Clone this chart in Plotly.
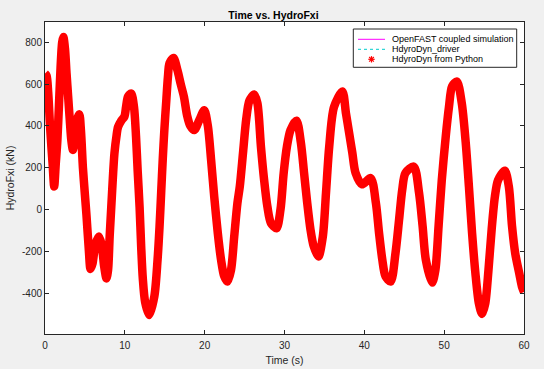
import plotly.graph_objects as go

# Time (s) and HydroFxi (kN)
time_s = [0.0, 0.2, 0.4, 0.6, 0.8, 0.95, 1.15, 1.35, 1.55, 1.75, 1.95, 2.15, 2.3, 2.5, 2.7, 2.9,
          3.1, 3.3, 3.5, 3.7, 3.9, 4.1, 4.3, 4.5, 4.75, 5.0, 5.2, 5.5, 5.7, 5.95, 6.3, 6.75,
          7.1, 7.4, 7.7, 7.9, 8.1, 8.3, 8.5, 8.7, 8.95, 9.15, 9.55, 9.95, 10.15, 10.4, 10.8,
          11.15, 11.4, 11.6, 11.85, 12.05, 12.25, 12.55, 13.05, 13.7, 14.1, 14.35, 14.55,
          14.75, 14.95, 15.2, 15.4, 15.6, 16.1, 16.6, 17.0, 17.4, 17.8, 18.2, 18.7, 19.35,
          19.95, 20.4, 20.8, 21.2, 21.65, 22.05, 22.45, 22.85, 23.3, 23.7, 24.1, 24.4, 24.8,
          25.2, 25.6, 26.2, 26.6, 27.05, 27.45, 27.85, 28.3, 29.0, 29.5, 29.9, 30.3, 30.75,
          31.5, 32.05, 32.45, 32.85, 33.25, 33.65, 34.25, 34.8, 35.2, 35.6, 36.2, 37.25,
          37.7, 38.1, 38.5, 38.9, 39.7, 40.8, 41.45, 41.85, 42.25, 42.65, 43.3, 43.9, 44.35,
          44.75, 45.15, 46.2, 46.85, 47.3, 47.7, 48.5, 48.9, 49.3, 49.7, 50.2, 50.6, 51.0,
          51.6, 52.2, 52.7, 53.1, 53.5, 53.9, 54.35, 54.75, 55.15, 55.55, 55.95, 56.35,
          56.75, 57.6, 58.1, 58.5, 58.9, 59.4, 59.75, 60.0]
hydro_fxi = [650, 640, 560, 420, 300, 220, 110, 220, 330, 500, 680, 800, 825, 770, 650, 540,
             430, 330, 285, 330, 400, 440, 455, 380, 200, 70, -30, -200, -285, -260, -170, -130,
             -170, -270, -330, -290, -130, 10, 150, 270, 350, 395, 425, 445, 490, 540, 555,
             490, 350, 190, 10, -180, -330, -445, -505, -415, -240, -80, 80,
             240, 380, 525, 635, 700, 725, 665, 600, 540, 450, 400, 380, 430,
             475, 400, 240, 60, -115, -240, -320, -345, -290, -130, 30, 110, 270,
             430, 520, 550, 510, 300, 140, 15, -65, -90, 0, 175, 300, 380,
             425, 320, 175, 30, -95, -175, -225, -130, 80, 300, 490, 565,
             460, 365, 270, 175, 120, 150, 30, -115, -240, -320, -345, -210, -50,
             95, 175, 205, 80, -80, -240, -350, -290, -80, 140, 350, 490, 590,
             612, 510, 320, 110, -115, -300, -450, -500, -450, -290, -95, 60,
             140, 185, 110, -80, -210, -305, -370, -395]

series_names = ["OpenFAST coupled simulation", "HdyroDyn_driver", "HdyroDyn from Python"]
x_ticks = [0, 10, 20, 30, 40, 50, 60]
y_ticks = [-400, -200, 0, 200, 400, 600, 800]
y_tick_labels = ["-400", "-200", "0", "200", "400", "600", "800"]

W, H = 544, 369
ML, MR, MT, MB = 45, 20, 22, 35
PW, PH = W - ML - MR, H - MT - MB
FONT = "Liberation Sans, Arial, Helvetica, sans-serif"
AX = "#262626"


def px(xp):
    return (xp - ML) / PW


def py(yp):
    return (H - MB - yp) / PH


fig = go.Figure()
fig.add_trace(go.Scatter(x=time_s, y=hydro_fxi, mode="lines", name=series_names[0],
                         line=dict(color="#ff00ff", width=0.6, shape="spline", smoothing=0.8), showlegend=False))
fig.add_trace(go.Scatter(x=time_s, y=hydro_fxi, mode="lines", name=series_names[1],
                         line=dict(color="#00e0e0", width=0.6, dash="dot", shape="spline", smoothing=0.8), showlegend=False))
fig.add_trace(go.Scatter(x=time_s, y=hydro_fxi, mode="lines", name=series_names[2],
                         line=dict(color="#ff0000", width=8.5, shape="spline", smoothing=0.8), showlegend=False))

shapes = []
annotations = []
# legend box
shapes.append(dict(type="rect", xref="paper", yref="paper", x0=px(353.3), x1=px(516.7),
                   y0=py(67.3), y1=py(29), line=dict(color=AX, width=1), fillcolor="white", layer="above"))
rows = [39.3, 49.3, 59.3]
shapes.append(dict(type="line", xref="paper", yref="paper", x0=px(358), x1=px(385),
                   y0=py(rows[0]), y1=py(rows[0]), line=dict(color="#ff00ff", width=1), layer="above"))
shapes.append(dict(type="line", xref="paper", yref="paper", x0=px(358), x1=px(385),
                   y0=py(rows[1]), y1=py(rows[1]), line=dict(color="#00cccc", width=1, dash="dot"), layer="above"))
# asterisk marker
cx, cy, r = 371.5, rows[2], 3.2
d = r * 0.72
for (dx, dy) in [(r, 0), (0, r), (d, d), (d, -d)]:
    shapes.append(dict(type="line", xref="paper", yref="paper", x0=px(cx - dx), x1=px(cx + dx),
                       y0=py(cy - dy), y1=py(cy + dy), line=dict(color="#ff0000", width=1.2), layer="above"))
for name, ry in zip(series_names, rows):
    annotations.append(dict(text=name, xref="paper", yref="paper", x=px(390), y=py(ry),
                            xanchor="left", yanchor="middle", showarrow=False,
                            font=dict(family=FONT, size=9, color="#000000")))

fig.update_layout(
    width=W, height=H,
    margin=dict(l=ML, r=MR, t=MT, b=MB),
    paper_bgcolor="#f0f0f0", plot_bgcolor="white",
    font=dict(family=FONT, size=10, color=AX),
    title=dict(text="<b>Time vs. HydroFxi</b>", x=(273.5 - ML) / PW, xref="paper", xanchor="center",
               y=1 - 15 / H, yref="container", yanchor="middle",
               font=dict(family=FONT, size=10.5, color="#000000")),
    showlegend=False,
    shapes=shapes, annotations=annotations,
)
fig.update_xaxes(range=[0, 60], tickvals=x_ticks, ticks="inside", ticklen=4, tickcolor=AX,
                 showline=True, linecolor=AX, linewidth=1, mirror="ticks", showgrid=False,
                 zeroline=False, tickfont=dict(size=10, color=AX), automargin=False,
                 ticklabelstandoff=2,
                 title=dict(text="Time (s)", font=dict(size=10.5, color=AX), standoff=6))
fig.update_yaxes(range=[-596, 897], tickvals=y_ticks, ticktext=y_tick_labels, ticks="inside",
                 ticklen=4, tickcolor=AX, showline=True, linecolor=AX, linewidth=1, mirror="ticks",
                 showgrid=False, zeroline=False, tickfont=dict(size=10, color=AX), automargin=False,
                 title=dict(text="HydroFxi (kN)", font=dict(size=10.5, color=AX), standoff=5))

fig.write_html("out.html", config={"displayModeBar": False},
               post_script="document.body.style.margin='0';document.body.style.background='#f0f0f0';")
